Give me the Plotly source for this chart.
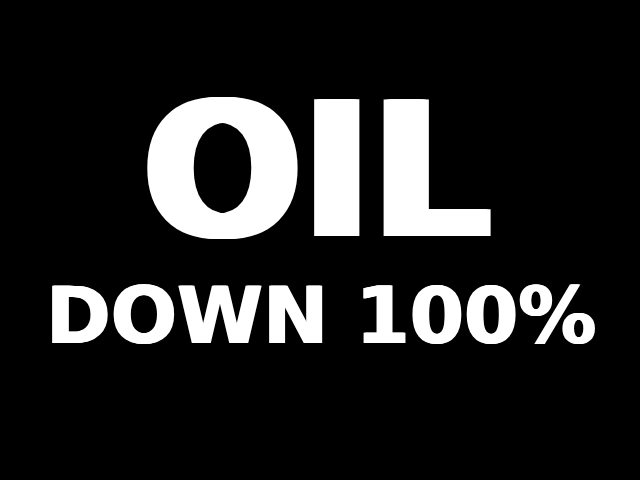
import plotly.graph_objects as go

# the two lines of the card
lines = ["OIL", "DOWN 100%"]
sizes = [187, 78]
xpos = [0.496, 0.503]
ypos = [0.643, 0.341]
# a touch of horizontal shadow to fatten the strokes like the source image
shadows = ["5px 0 0 white, -5px 0 0 white, 2px 0 0 white, -2px 0 0 white",
           "1px 0 0 white, -1px 0 0 white"]

fig = go.Figure()
for txt, sz, x, y, sh in zip(lines, sizes, xpos, ypos, shadows):
    fig.add_annotation(
        text=f"<b>{txt}</b>", x=x, y=y, xref="paper", yref="paper",
        xanchor="center", yanchor="middle", showarrow=False,
        font={"family": "DejaVu Sans", "size": sz, "color": "white", "shadow": sh},
    )

fig.update_layout(
    width=640, height=480,
    paper_bgcolor="black", plot_bgcolor="black",
    margin={"l": 0, "r": 0, "t": 0, "b": 0},
    xaxis={"visible": False}, yaxis={"visible": False},
    showlegend=False,
)
# kill the default page margin so the card fills the window
fig.write_html(
    "out.html",
    config={"displayModeBar": False},
    post_script="document.body.style.margin='0';document.body.style.background='black';",
)
